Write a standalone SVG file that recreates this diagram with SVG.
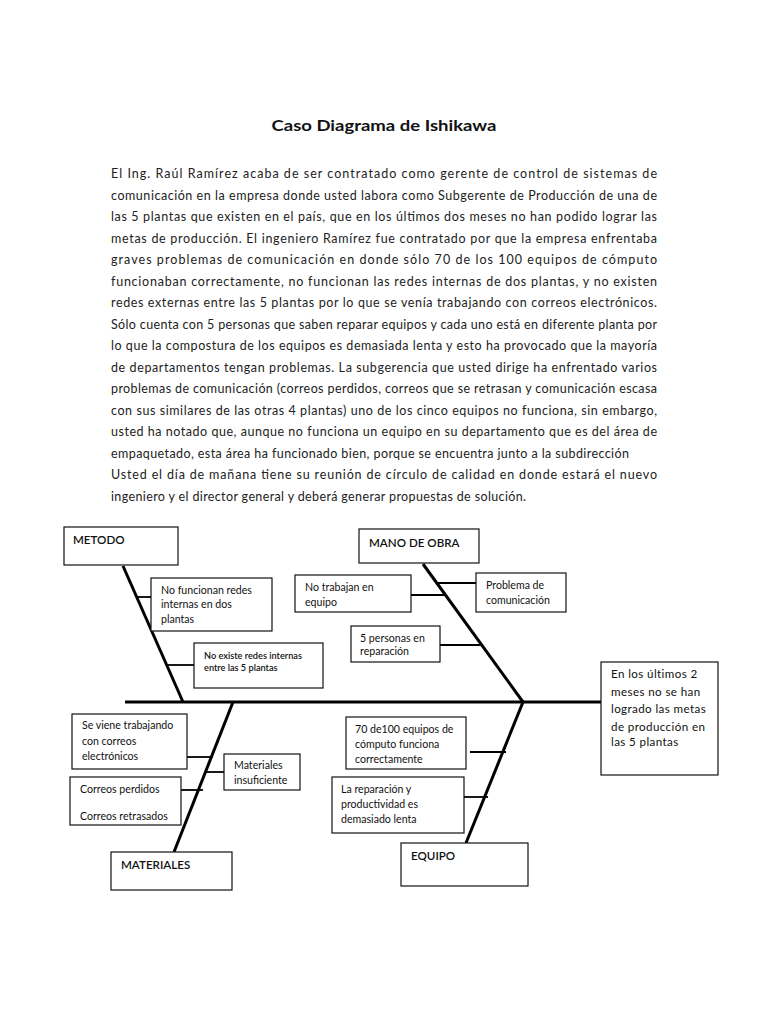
<svg xmlns="http://www.w3.org/2000/svg" width="768" height="1024" viewBox="0 0 768 1024">
<style>
.title{font-family:Lato,"Open Sans","Liberation Sans",sans-serif;font-weight:bold;font-size:16px;fill:#111}
.p{font-family:Lato,"Open Sans","Liberation Sans",sans-serif;font-size:12.5px;fill:#222}
.box{fill:#fff;stroke:#111;stroke-width:1.2}
.lbl{font-family:Lato,"Liberation Sans",sans-serif;font-size:10.6px;fill:#111}
.big{font-family:Lato,"Liberation Sans",sans-serif;font-size:11.6px;letter-spacing:0.4px;fill:#111}
.cat{font-family:Lato,"Liberation Sans",sans-serif;font-size:11.6px;font-weight:600;fill:#111}
.sm{font-family:Lato,"Liberation Sans",sans-serif;font-size:9.2px;font-weight:600;fill:#111}
.bone{stroke:#000;stroke-width:3;fill:none}
.con{stroke:#000;stroke-width:1.8;fill:none}
</style>
<rect width="768" height="1024" fill="#fff"/>
<text class="title" x="384" y="131" text-anchor="middle" textLength="225" lengthAdjust="spacingAndGlyphs">Caso Diagrama de Ishikawa</text>
<g id="paragraph">
<text class="p" x="111" y="178" textLength="546" lengthAdjust="spacing">El Ing. Raúl Ramírez acaba de ser contratado como gerente de control de sistemas de</text>
<text class="p" x="111" y="199.5" textLength="546" lengthAdjust="spacing">comunicación en la empresa donde usted labora como Subgerente de Producción de una de</text>
<text class="p" x="111" y="221" textLength="546" lengthAdjust="spacing">las 5 plantas que existen en el país, que en los últimos dos meses no han podido lograr las</text>
<text class="p" x="111" y="242.5" textLength="546" lengthAdjust="spacing">metas de producción. El ingeniero Ramírez fue contratado por que la empresa enfrentaba</text>
<text class="p" x="111" y="264" textLength="546" lengthAdjust="spacing">graves problemas de comunicación en donde sólo 70 de los 100 equipos de cómputo</text>
<text class="p" x="111" y="285.5" textLength="546" lengthAdjust="spacing">funcionaban correctamente, no funcionan las redes internas de dos plantas, y no existen</text>
<text class="p" x="111" y="307" textLength="546" lengthAdjust="spacing">redes externas entre las 5 plantas por lo que se venía trabajando con correos electrónicos.</text>
<text class="p" x="111" y="328.5" textLength="546" lengthAdjust="spacing">Sólo cuenta con 5 personas que saben reparar equipos y cada uno está en diferente planta por</text>
<text class="p" x="111" y="350" textLength="546" lengthAdjust="spacing">lo que la compostura de los equipos es demasiada lenta y esto ha provocado que la mayoría</text>
<text class="p" x="111" y="371.5" textLength="546" lengthAdjust="spacing">de departamentos tengan problemas. La subgerencia que usted dirige ha enfrentado varios</text>
<text class="p" x="111" y="393" textLength="546" lengthAdjust="spacing">problemas de comunicación (correos perdidos, correos que se retrasan y comunicación escasa</text>
<text class="p" x="111" y="414.5" textLength="546" lengthAdjust="spacing">con sus similares de las otras 4 plantas) uno de los cinco equipos no funciona, sin embargo,</text>
<text class="p" x="111" y="436" textLength="546" lengthAdjust="spacing">usted ha notado que, aunque no funciona un equipo en su departamento que es del área de</text>
<text class="p" x="111" y="457.5" textLength="518" lengthAdjust="spacing">empaquetado, esta área ha funcionado bien, porque se encuentra junto a la subdirección</text>
<text class="p" x="111" y="479" textLength="546" lengthAdjust="spacing">Usted el día de mañana tiene su reunión de círculo de calidad en donde estará el nuevo</text>
<text class="p" x="111" y="500.5" textLength="415" lengthAdjust="spacing">ingeniero y el director general y deberá generar propuestas de solución.</text>
</g>
<g id="connectors">
<line class="bone" x1="125" y1="702" x2="601" y2="702"/>
<line class="bone" x1="123" y1="566" x2="183" y2="702"/>
<line class="bone" x1="423" y1="564" x2="523" y2="702"/>
<line class="bone" x1="233" y1="702" x2="174" y2="852"/>
<line class="bone" x1="523" y1="702" x2="466" y2="843"/>
<line class="con" x1="137" y1="597" x2="151" y2="597"/>
<line class="con" x1="167" y1="665" x2="194" y2="665"/>
<line class="con" x1="411" y1="595" x2="446" y2="595"/>
<line class="con" x1="437" y1="583" x2="476" y2="583"/>
<line class="con" x1="440" y1="645" x2="482" y2="645"/>
<line class="con" x1="187" y1="757" x2="213" y2="757"/>
<line class="con" x1="205" y1="772" x2="224" y2="772"/>
<line class="con" x1="178" y1="790" x2="203" y2="790"/>
<line class="con" x1="470" y1="752" x2="506" y2="752"/>
<line class="con" x1="463" y1="797" x2="488" y2="797"/>
</g>
<g id="metodo"><rect class="box" x="64" y="527" width="114" height="38"/><text class="cat" x="73" y="544">METODO</text></g>
<g id="redes-internas"><rect class="box" x="151" y="578" width="121" height="53"/><text class="lbl" x="161" y="593.5">No funcionan redes</text><text class="lbl" x="161" y="608">internas en dos</text><text class="lbl" x="161" y="623">plantas</text></g>
<g id="no-existe"><rect class="box" x="194" y="643" width="129" height="45"/><text class="sm" x="204" y="659">No existe redes internas</text><text class="sm" x="204" y="671">entre las 5 plantas</text></g>
<g id="mano-de-obra"><rect class="box" x="359" y="529" width="120" height="34"/><text class="cat" x="369" y="547">MANO DE OBRA</text></g>
<g id="no-trabajan"><rect class="box" x="295" y="575" width="116" height="37"/><text class="lbl" x="305" y="590.5">No trabajan en</text><text class="lbl" x="305" y="605.5">equipo</text></g>
<g id="problema"><rect class="box" x="476" y="573" width="90" height="39"/><text class="lbl" x="486" y="588.5">Problema de</text><text class="lbl" x="486" y="603.5">comunicación</text></g>
<g id="cinco-personas"><rect class="box" x="351" y="626" width="89" height="36"/><text class="lbl" x="360" y="641.5">5 personas en</text><text class="lbl" x="360" y="655">reparación</text></g>
<g id="efecto"><rect class="box" x="601" y="662" width="117" height="113"/><text class="big" x="611" y="678">En los últimos 2</text><text class="big" x="611" y="696">meses no se han</text><text class="big" x="611" y="713">logrado las metas</text><text class="big" x="611" y="731">de producción en</text><text class="big" x="611" y="746">las 5 plantas</text></g>
<g id="se-viene"><rect class="box" x="72" y="714" width="115" height="55"/><text class="lbl" x="82" y="728.5">Se viene trabajando</text><text class="lbl" x="82" y="744.5">con correos</text><text class="lbl" x="82" y="759.5">electrónicos</text></g>
<g id="materiales-insuf"><rect class="box" x="224" y="754" width="76" height="36"/><text class="lbl" x="234" y="768.5">Materiales</text><text class="lbl" x="234" y="783.5">insuficiente</text></g>
<g id="correos"><rect class="box" x="70" y="777" width="111" height="48"/><text class="lbl" x="80" y="792.5">Correos perdidos</text><text class="lbl" x="80" y="819.5">Correos retrasados</text></g>
<g id="materiales"><rect class="box" x="111" y="852" width="121" height="38"/><text class="cat" x="121" y="869">MATERIALES</text></g>
<g id="setenta"><rect class="box" x="346" y="717" width="120" height="52"/><text class="lbl" x="355" y="732.5">70 de100 equipos de</text><text class="lbl" x="355" y="747.5">cómputo funciona</text><text class="lbl" x="355" y="762.5">correctamente</text></g>
<g id="reparacion"><rect class="box" x="332" y="777" width="132" height="56"/><text class="lbl" x="341" y="792.5">La reparación y</text><text class="lbl" x="341" y="807.5">productividad es</text><text class="lbl" x="341" y="822.5">demasiado lenta</text></g>
<g id="equipo"><rect class="box" x="401" y="843" width="127" height="43"/><text class="cat" x="411" y="860">EQUIPO</text></g>
</svg>
